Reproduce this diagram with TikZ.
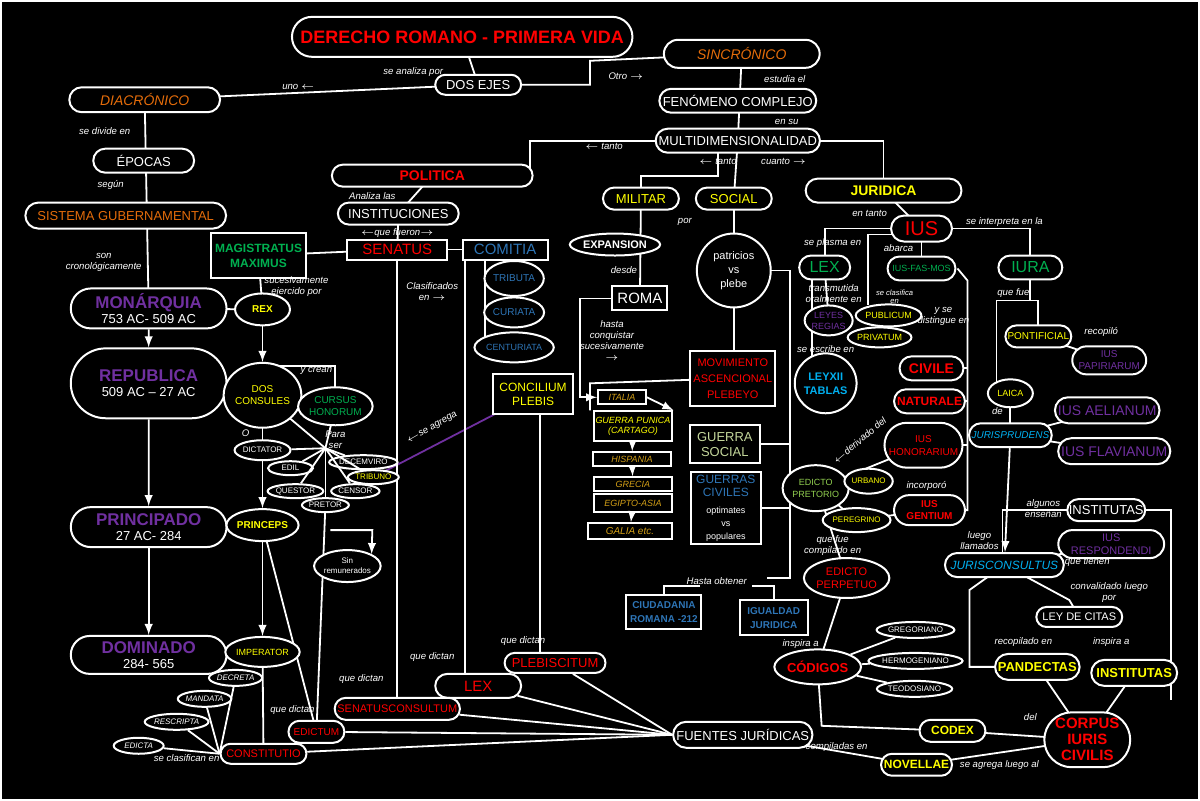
\documentclass[tikz,border=0pt]{standalone}
\usepackage{fontspec}
\setmainfont{Liberation Sans}
\usetikzlibrary{shapes.geometric,shapes.misc,arrows}
\definecolor{rrojo}{HTML}{FF0000}
\definecolor{rnaranja}{HTML}{E46C0A}
\definecolor{rmorado}{HTML}{7030A0}
\definecolor{rverde}{HTML}{00B050}
\definecolor{ramarillo}{HTML}{FFFF00}
\definecolor{rceleste}{HTML}{00B0F0}
\definecolor{razul}{HTML}{2E75B6}
\definecolor{rverdeclaro}{HTML}{C4D79B}
\definecolor{rlima}{HTML}{92D050}
\definecolor{roro}{HTML}{D4A017}

\begin{document}
\begin{tikzpicture}[x=0.5pt, y=-0.5pt,
every node/.style = {text=white, align=center, inner sep=1pt,
  font=\fontsize{6.5}{7.5}\selectfont},
every path/.style = {draw=white, line width=0.9pt},
sz/.style 2 args = {minimum width=#1*0.5pt, minimum height=#2*0.5pt},
rr/.style = {rounded rectangle, draw=white, line width=1pt, fill=black},
ov/.style = {ellipse, draw=white, line width=1pt, fill=black, inner sep=0pt},
bx/.style = {rectangle, draw=white, line width=1pt, fill=black},
lb/.style = {draw=none, font=\fontsize{4.8}{5.5}\selectfont\itshape},
arr/.style = {-latex}
]
\fill[black] (0,0) rectangle (1200,800);
\useasboundingbox (0,0) rectangle (1200,800);

% connectors first, nodes drawn over them
\coordinate (para) at (325,448);
\draw (462,36) -- (478,84);
\draw (478,84) -- (144,99);
\draw (478,84) -- (590,84) -- (590,60) -- (742,53);
\draw (742,53) -- (738,140);
\draw (144,99) -- (148,308);
\draw (738,140) -| (530,175) -- (432,175);
\draw (718,140) |- (641,175) -- (641,198);
\draw (738,140) -- (734,198);
\draw (738,140) -- (884,140) -- (884,190);
\draw (398,213) -- (432,175);
\draw (398,213) -- (397,249) -- (258,255);
\draw (397,249) -- (505,249);
\draw (258,255) -- (262,309) -- (148,308);
\draw (148,383) -- (262,395);
\draw (148,527) -- (262,525);
\draw (148,655) -- (262,652);
\draw (262,395) -- (262,450);
\draw (335,406) -- ++(0,-40) -| (275,370);
\draw (262,395) -- (para);
\draw (335,406) -- (para);
\draw[rmorado] (373,477) -- (533,394);
\draw (485,249) |- (514,278);
\draw (485,259) |- (514,312);
\draw (485,259) |- (514,347);
\draw (465,249) -- (465,686) -- (478,686);
\draw (397,249) -- (397,709);
\draw (540,394) -- (540,663);
\draw (325,505) -- (316,732);
\draw (262,525) -- (316,732);
\draw (262,652) -- (263,754);
\draw (641,198) -- (640,298);
\draw (734,198) -- (734,270) -- (734,378);
\draw (733,378) -- (590,383) -- (590,410);
\draw (734,270) -| (790,578) -- (767,578);
\draw (725,444) -- (790,444);
\draw (726,508) -- (790,508);
\draw (700,586) -| (664,612);
\draw (752,586) -| (774,618);
\draw (884,190) -- (922,228);
\draw (922,228) -| (825,267);
\draw (922,228) -- (922,268);
\draw (922,228) -| (1031,267);
\draw (922,234) -| (868,305);
\draw (825,267) -- (829,320);
\draw (812,267) -- (812,383);
\draw (958,268) -- (968,280) -- (968,510) -- (930,510);
\foreach \y in {368,401,445} \draw (930,\y) -- (968,\y);
\draw (924,445) -- (818,488) -- (869,481);
\draw (818,488) -- (857,520) -- (930,510);
\draw (818,488) -- (847,578);
\draw (1031,267) -- (1031,300) -| (1039,336);
\draw (1031,300) -- (997,300) -- (997,393);
\draw (1039,336) -- (1110,360);
\draw (1011,393) -- (1011,435);
\draw (1011,435) -- (1108,410);
\draw (1011,435) -- (1115,451);
\draw (1107,510) -- (1003,510) -- (1003,553);
\draw (1107,510) -- (1172,510) -- (1172,700);
\draw (1005,565) -- (1112,544);
\draw (1005,565) -- (1070,600) -- (1080,617);
\draw (1005,565) -- (970,590) -- (970,667) -- (1038,667);
\draw (1038,667) -- (1088,740);
\draw (1135,673) -- (1088,740);
\draw (953,731) -- (1088,740);
\draw (917,765) -- (1088,740);
\draw (743,735) -- (917,765);
\draw (818,667) -- (822,726) -- (953,731);
\draw (847,578) -- (818,667);

% nodes: top
\node[rr, sz={345}{40}, text=rrojo, font=\fontsize{9}{10}\selectfont\bfseries] (titulo) at (462,36) {DERECHO ROMANO - PRIMERA VIDA};
\node[rr, sz={90}{20}] (ejes) at (478,84) {DOS EJES};
\node[rr, sz={160}{28}, text=rnaranja, font=\fontsize{7}{8}\selectfont\itshape] (sincro) at (742,53) {SINCRÓNICO};
\node[rr, sz={155}{25}, text=rnaranja, font=\fontsize{7}{8}\selectfont\itshape] (diacro) at (144,99) {DIACRÓNICO};
\node[rr, sz={155}{24}] (fenomeno) at (738,100) {FENÓMENO COMPLEJO};
\node[rr, sz={155}{24}] (multi) at (738,140) {MULTIDIMENSIONALIDAD};
\node[rr, sz={105}{24}] (epocas) at (143,160) {ÉPOCAS};
\node[rr, sz={205}{26}, text=rnaranja] (sistema) at (125,215) {SISTEMA GUBERNAMENTAL};
\node[rr, sz={205}{22}, text=rrojo, font=\fontsize{7}{8}\selectfont\bfseries] (politica) at (432,175) {POLITICA};
\node[rr, sz={125}{22}] (instituciones) at (398,213) {INSTITUCIONES};
\node[rr, sz={80}{22}, text=ramarillo] (militar) at (641,198) {MILITAR};
\node[rr, sz={80}{22}, text=ramarillo] (social) at (734,198) {SOCIAL};
\node[rr, sz={160}{24}, text=ramarillo, font=\fontsize{7}{8}\selectfont\bfseries] (juridica) at (884,190) {JURIDICA};

% politica
\node[bx, sz={100}{20}, text=rrojo, font=\fontsize{7.5}{8}\selectfont] (senatus) at (397,249) {SENATUS};
\node[bx, sz={85}{20}, text=razul, font=\fontsize{7.5}{8}\selectfont] (comitia) at (505,249) {COMITIA};
\node[bx, sz={95}{45}, text=rverde, font=\fontsize{6}{7.5}\selectfont\bfseries] (magistratus) at (258,255) {MAGISTRATUS\\MAXIMUS};
\node[ov, sz={55}{35}, text=razul, font=\fontsize{5}{6}\selectfont] (tributa) at (514,278) {TRIBUTA};
\node[ov, sz={55}{30}, text=razul, font=\fontsize{5}{6}\selectfont] (curiata) at (514,312) {CURIATA};
\node[ov, sz={55}{30}, text=razul, font=\fontsize{4.5}{6}\selectfont] (centuriata) at (514,347) {CENTURIATA};
\node[rr, sz={160}{40}] (monarquia) at (148,308) {\textcolor{rmorado}{\fontsize{8.5}{9}\selectfont\bfseries MONÁRQUIA}\\753 AC- 509 AC};
\node[rr, sz={160}{70}] (republica) at (148,383) {\textcolor{rmorado}{\fontsize{8.5}{9}\selectfont\bfseries REPUBLICA}\\509 AC – 27 AC};
\node[rr, sz={160}{40}] (principado) at (148,527) {\textcolor{rmorado}{\fontsize{8.5}{9}\selectfont\bfseries PRINCIPADO}\\27 AC- 284};
\node[rr, sz={160}{38}] (dominado) at (148,655) {\textcolor{rmorado}{\fontsize{8.5}{9}\selectfont\bfseries DOMINADO}\\284- 565};
\node[ov, sz={55}{32}, text=ramarillo, font=\fontsize{5}{6}\selectfont\bfseries] (rex) at (262,309) {REX};
\node[ov, sz={55}{65}, text=ramarillo, font=\fontsize{5}{6}\selectfont] (consules) at (262,395) {DOS\\CONSULES};
\node[ov, sz={70}{38}, text=rverde, font=\fontsize{5}{6}\selectfont] (cursus) at (335,406) {CURSUS\\HONORUM};
\node[ov, sz={40}{20}, font=\fontsize{4}{5}\selectfont] (dictator) at (262,450) {DICTATOR};
\node[ov, sz={45}{14}, font=\fontsize{4}{5}\selectfont] (edil) at (290,468) {EDIL};
\node[ov, sz={50}{14}, font=\fontsize{4}{5}\selectfont] (decemviro) at (363,462) {DECEMVIRO};
\node[ov, sz={45}{14}, text=ramarillo, font=\fontsize{4}{5}\selectfont] (tribuno) at (373,477) {TRIBUNO};
\node[ov, sz={45}{14}, font=\fontsize{4}{5}\selectfont] (questor) at (295,491) {QUESTOR};
\node[ov, sz={45}{14}, font=\fontsize{4}{5}\selectfont] (censor) at (355,491) {CENSOR};
\node[ov, sz={45}{14}, font=\fontsize{4}{5}\selectfont] (pretor) at (325,505) {PRETOR};
\node[ov, sz={55}{32}, font=\fontsize{4}{5}\selectfont] (sinrem) at (347,566) {Sin\\remunerados};
\node[ov, sz={55}{32}, text=ramarillo, font=\fontsize{5}{6}\selectfont\bfseries] (princeps) at (262,525) {PRINCEPS};
\node[ov, sz={55}{30}, text=ramarillo, font=\fontsize{4.5}{6}\selectfont] (imperator) at (262,652) {IMPERATOR};
\node[bx, sz={80}{40}, text=ramarillo, font=\fontsize{6}{7}\selectfont] (concilium) at (533,394) {CONCILIUM\\PLEBIS};

% fuentes
\node[rr, sz={105}{20}, text=rrojo, font=\fontsize{6.5}{7}\selectfont] (plebiscitum) at (555,663) {PLEBISCITUM};
\node[rr, sz={90}{24}, text=rrojo, font=\fontsize{7.5}{8}\selectfont] (lexr) at (478,686) {LEX};
\node[ov, sz={50}{16}, font=\fontsize{4}{5}\selectfont\itshape] (decreta) at (235,678) {DECRETA};
\node[ov, sz={50}{16}, font=\fontsize{4}{5}\selectfont\itshape] (mandata) at (204,699) {MANDATA};
\node[ov, sz={50}{16}, font=\fontsize{4}{5}\selectfont\itshape] (rescripta) at (176,722) {RESCRIPTA};
\node[ov, sz={50}{16}, font=\fontsize{4}{5}\selectfont\itshape] (edicta) at (138,746) {EDICTA};
\node[rr, sz={110}{22}, text=rrojo, font=\fontsize{5.5}{6}\selectfont] (senatuscons) at (397,709) {SENATUSCONSULTUM};
\node[rr, sz={60}{22}, text=rrojo, font=\fontsize{5}{6}\selectfont] (edictum) at (316,732) {EDICTUM};
\node[rr, sz={90}{20}, text=rrojo, font=\fontsize{5.5}{6}\selectfont] (constitutio) at (263,754) {CONSTITUTIO};
\node[rr, sz={135}{26}] (fuentes) at (743,735) {FUENTES JURÍDICAS};

% militar y social
\node[ov, sz={85}{22}, font=\fontsize{5.5}{6}\selectfont\bfseries] (expansion) at (615,244) {EXPANSION};
\node[bx, sz={55}{24}, font=\fontsize{7.5}{8}\selectfont] (roma) at (640,298) {ROMA};
\node[bx, sz={48}{14}, text=roro, font=\fontsize{4.5}{5}\selectfont\itshape] (italia) at (622,397) {ITALIA};
\node[bx, sz={70}{30}, text=ramarillo, font=\fontsize{4.5}{5}\selectfont\itshape] (punica) at (633,426) {GUERRA PUNICA\\(CARTAGO)};
\node[bx, sz={78}{14}, text=roro, font=\fontsize{4.5}{5}\selectfont\itshape] (hispania) at (632,459) {HISPANIA};
\node[bx, sz={78}{14}, text=roro, font=\fontsize{4.5}{5}\selectfont\itshape] (grecia) at (633,484) {GRECIA};
\node[bx, sz={78}{18}, text=roro, font=\fontsize{4.5}{5}\selectfont\itshape] (egipto) at (633,503) {EGIPTO-ASIA};
\node[bx, sz={85}{16}, text=roro, font=\fontsize{5}{5}\selectfont\itshape] (galia) at (630,531) {GALIA etc.};
\node[circle, draw=white, line width=1pt, minimum size=37pt, fill=black, font=\fontsize{5.5}{7}\selectfont] (patricios) at (734,270) {patricios\\vs\\plebe};
\node[bx, sz={85}{55}, text=rrojo, font=\fontsize{5.5}{8}\selectfont] (movimiento) at (733,378) {MOVIMIENTO\\ASCENCIONAL\\PLEBEYO};
\node[bx, sz={70}{38}, text=rverdeclaro, font=\fontsize{6.5}{7.5}\selectfont] (gsocial) at (725,444) {GUERRA\\SOCIAL};
\node[bx, sz={70}{72}, text=razul, font=\fontsize{6}{6.5}\selectfont] (gciviles) at (726,508) {GUERRAS\\CIVILES\\[2pt]{\color{white}\fontsize{4.5}{5}\selectfont optimates}\\{\color{white}\fontsize{4.5}{5}\selectfont vs}\\{\color{white}\fontsize{4.5}{5}\selectfont populares}};
\node[bx, sz={75}{35}, text=razul, font=\fontsize{5}{7}\selectfont\bfseries] (ciudadania) at (664,612) {CIUDADANIA\\ROMANA -212};
\node[bx, sz={68}{35}, text=razul, font=\fontsize{5}{7}\selectfont\bfseries] (igualdad) at (774,618) {IGUALDAD\\JURIDICA};

% juridica
\node[rr, sz={65}{26}, text=rrojo, font=\fontsize{10}{11}\selectfont] (ius) at (922,228) {IUS};
\node[rr, sz={55}{24}, text=rverde, font=\fontsize{8}{9}\selectfont] (lex) at (825,267) {LEX};
\node[rr, sz={72}{24}, text=rverde, font=\fontsize{4.5}{6}\selectfont] (fasmos) at (922,268) {IUS-FAS-MOS};
\node[rr, sz={68}{24}, text=rverde, font=\fontsize{8}{9}\selectfont] (iura) at (1031,267) {IURA};
\node[ov, sz={48}{30}, text=rmorado, font=\fontsize{4.5}{5.5}\selectfont] (regias) at (829,320) {LEYES\\REGIAS};
\node[ov, sz={50}{22}, text=ramarillo, font=\fontsize{4.5}{6}\selectfont] (publicum) at (889,315) {PUBLICUM};
\node[ov, sz={50}{20}, text=ramarillo, font=\fontsize{4.5}{6}\selectfont] (privatum) at (880,337) {PRIVATUM};
\node[ov, sz={52}{60}, text=rceleste, font=\fontsize{5.5}{7}\selectfont\bfseries] (xii) at (826,383) {LEYXII\\TABLAS};
\node[rr, sz={68}{24}, text=rrojo, font=\fontsize{7}{8}\selectfont\bfseries] (civile) at (932,368) {CIVILE};
\node[rr, sz={75}{24}, text=rrojo, font=\fontsize{6}{7}\selectfont\bfseries] (naturale) at (930,401) {NATURALE};
\node[rr, sz={65}{45}, text=rrojo, font=\fontsize{5}{6.5}\selectfont] (honorarium) at (924,445) {IUS\\HONORARIUM};
\node[rr, sz={75}{30}, text=rrojo, font=\fontsize{5}{6}\selectfont\bfseries] (gentium) at (930,510) {IUS\\GENTIUM};
\node[ov, sz={52}{46}, text=rlima, font=\fontsize{4.5}{6}\selectfont] (pretorio) at (816,488) {EDICTO\\PRETORIO};
\node[ov, sz={45}{25}, text=ramarillo, font=\fontsize{4}{5}\selectfont] (urbano) at (869,481) {URBANO};
\node[ov, sz={58}{24}, text=ramarillo, font=\fontsize{4}{5}\selectfont] (peregrino) at (857,520) {PEREGRINO};
\node[ov, sz={75}{40}, text=rrojo, font=\fontsize{5.5}{6.5}\selectfont] (perpetuo) at (847,578) {EDICTO\\PERPETUO};
\node[rr, sz={70}{22}, text=ramarillo, font=\fontsize{5}{6}\selectfont] (pontificial) at (1039,336) {PONTIFICIAL};
\node[rr, sz={78}{28}, text=rmorado, font=\fontsize{5}{6}\selectfont] (papiriarum) at (1110,360) {IUS\\PAPIRIARUM};
\node[ov, sz={45}{28}, text=ramarillo, font=\fontsize{4.5}{6}\selectfont] (laica) at (1011,393) {LAICA};
\node[rr, sz={80}{24}, text=rceleste, font=\fontsize{5}{6}\selectfont\itshape] (jurisprudens) at (1011,435) {JURISPRUDENS};
\node[rr, sz={100}{26}, text=rmorado, font=\fontsize{7}{8}\selectfont] (aelianum) at (1108,410) {IUS AELIANUM};
\node[rr, sz={108}{26}, text=rmorado, font=\fontsize{7}{8}\selectfont] (flavianum) at (1115,451) {IUS FLAVIANUM};
\node[rr, sz={82}{22}, font=\fontsize{6.5}{7}\selectfont] (institutas) at (1107,510) {INSTITUTAS};
\node[rr, sz={110}{28}, text=rmorado, font=\fontsize{5.5}{6.5}\selectfont] (respondendi) at (1112,544) {IUS\\RESPONDENDI};
\node[rr, sz={123}{24}, text=rceleste, font=\fontsize{6}{7}\selectfont\itshape] (jurisconsultus) at (1005,565) {JURISCONSULTUS};
\node[rr, sz={90}{20}, font=\fontsize{5.5}{6}\selectfont] (citas) at (1080,617) {LEY DE CITAS};
\node[ov, sz={72}{16}, font=\fontsize{4}{5}\selectfont] (gregoriano) at (916,630) {GREGORIANO};
\node[ov, sz={80}{16}, font=\fontsize{4}{5}\selectfont] (hermogeniano) at (916,661) {HERMOGENIANO};
\node[ov, sz={75}{16}, font=\fontsize{4}{5}\selectfont] (teodosiano) at (915,689) {TEODOSIANO};
\node[ov, sz={70}{35}, text=rrojo, font=\fontsize{6.5}{8}\selectfont\bfseries] (codigos) at (818,667) {CÓDIGOS};
\node[rr, sz={80}{26}, text=ramarillo, font=\fontsize{6.5}{7}\selectfont\bfseries] (pandectas) at (1038,667) {PANDECTAS};
\node[rr, sz={90}{26}, text=ramarillo, font=\fontsize{6.5}{7}\selectfont\bfseries] (institutasy) at (1135,673) {INSTITUTAS};
\node[rr, sz={70}{22}, text=ramarillo, font=\fontsize{6}{7}\selectfont\bfseries] (codex) at (953,731) {CODEX};
\node[rr, sz={70}{22}, text=ramarillo, font=\fontsize{6}{7}\selectfont\bfseries] (novellae) at (917,765) {NOVELLAE};
\node[rr, sz={90}{55}, text=rrojo, font=\fontsize{7.5}{8}\selectfont\bfseries] (corpus) at (1088,740) {CORPUS\\IURIS\\CIVILIS};

% named connectors between nodes
\draw[arr] (monarquia) -- (republica);
\draw[arr] (republica) -- (principado);
\draw[arr] (principado) -- (dominado);
\draw[arr] (rex) -- (consules);
\draw[arr] (dictator) -- (princeps);
\draw[arr] (princeps) -- (imperator);
\foreach \m in {dictator, edil, decemviro, tribuno, questor, censor, pretor}
  \draw (para) -- (\m);
\draw[arr] (330,530) -- (372,530) -- (sinrem.north east);
\foreach \m in {decreta, mandata, rescripta, edicta}
  \draw (constitutio.west) -- (\m);
\foreach \m in {senatuscons, lexr, plebiscitum, edictum, constitutio}
  \draw (\m) -- (fuentes.west);
\draw[arr] (roma.west) -- (580,298) -- (580,397) -- (italia.west);
\draw[arr] (italia.east) -- (punica.north east);
\draw[arr] (punica) -- (hispania);
\draw[arr] (hispania) -- (grecia);
\draw[arr] (egipto) -- (galia);
\draw[arr] (jurisprudens) -- (jurisconsultus);
\foreach \m in {gregoriano, hermogeniano, teodosiano}
  \draw (codigos) -- (\m);

% labels
\node[lb] at (413,71) {se analiza por};
\node[lb] at (298,86) {uno $\leftarrow$};
\node[lb] at (626,75) {Otro $\rightarrow$};
\node[lb] at (785,78) {estudia el};
\node[lb] at (787,121) {en su};
\node[lb] at (604,146) {$\leftarrow$ tanto};
\node[lb] at (718,161) {$\leftarrow$ tanto};
\node[lb] at (784,161) {cuanto $\rightarrow$};
\node[lb] at (104,130) {se divide en};
\node[lb] at (110,184) {según};
\node[lb] at (103,262) {son\\cronológicamente};
\node[lb] at (372,195) {Analiza las};
\node[lb] at (397,232) {$\leftarrow$que fueron$\rightarrow$};
\node[lb] at (296,286) {sucesivamente\\ejercido por};
\node[lb] at (624,270) {desde};
\node[lb] at (685,221) {por};
\node[lb] at (870,213) {en tanto};
\node[lb] at (1005,221) {se interpreta en la};
\node[lb] at (833,242) {se plasma en};
\node[lb] at (899,248) {abarca};
\node[lb] at (432,291) {Clasificados\\en $\rightarrow$};
\node[lb] at (612,340) {hasta\\conquistar\\sucesivamente\\$\rightarrow$};
\node[lb] at (834,293) {transmutida\\oralmente en};
\node[lb, font=\fontsize{3.8}{4}\selectfont\itshape] at (895,296) {se clasifica\\en};
\node[lb] at (944,316) {y se\\distingue en};
\node[lb] at (1014,293) {que fue};
\node[lb] at (1102,332) {recopiló};
\node[lb] at (826,349) {se escribe en};
\node[lb] at (316,371) {y crean};
\node[lb] at (245,433) {O};
\node[lb] at (335,440) {Para\\ser};
\node[lb, rotate=30] at (432,428) {$\leftarrow$se agrega};
\node[lb] at (998,411) {de};
\node[lb, rotate=40] at (860,440) {$\leftarrow$derivado del};
\node[lb] at (927,486) {incorporó};
\node[lb] at (1044,508) {algunos\\enseñan};
\node[lb] at (980,540) {luego\\llamados};
\node[lb] at (1088,562) {que tienen};
\node[lb] at (833,545) {que fue\\compilado en};
\node[lb] at (717,581) {Hasta obtener};
\node[lb] at (1110,593) {convalidado luego\\por};
\node[lb] at (1024,642) {recopilado en};
\node[lb] at (1112,642) {inspira a};
\node[lb] at (801,644) {inspira a};
\node[lb] at (523,641) {que dictan};
\node[lb] at (432,657) {que dictan};
\node[lb] at (361,679) {que dictan};
\node[lb] at (292,710) {que dictan};
\node[lb] at (186,758) {se clasifican en};
\node[lb] at (837,747) {compiladas en};
\node[lb] at (1000,765) {se agrega luego al};
\node[lb] at (1031,717) {del};
\end{tikzpicture}
\end{document}
